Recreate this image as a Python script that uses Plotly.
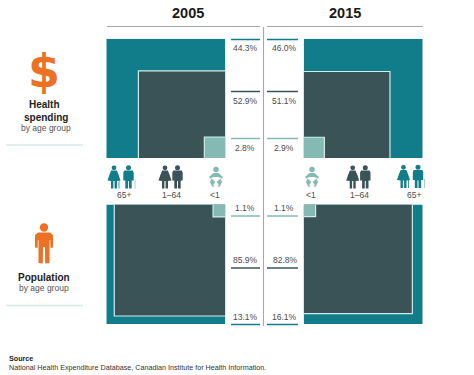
import plotly.graph_objects as go

W, H = 474, 375
years = ["2005", "2015"]
age_groups = ["65+", "1–64", "<1"]
spending_2005 = [44.3, 52.9, 2.8]
spending_2015 = [46.0, 51.1, 2.9]
population_2005 = [13.1, 85.9, 1.1]
population_2015 = [16.1, 82.8, 1.1]
# square side, as a share of the panel side
spending_2005_sides = [1.0, 0.730, 0.176]
spending_2015_sides = [1.0, 0.725, 0.174]
population_2005_sides = [1.0, 0.933, 0.103]
population_2015_sides = [1.0, 0.913, 0.100]
colors = ["#127d8a", "#3a5357", "#85bab4"]
EDGE = "#d3ebe9"
ORANGE = "#ee7023"
FONT = "Liberation Sans, Arial, sans-serif"

px = lambda x: x / W
py = lambda y: 1 - y / H

panels = [
    (spending_2005_sides, 106.3, 225.3, 38.7, 158, True, False),
    (spending_2015_sides, 303.7, 422.7, 38.7, 158, False, False),
    (population_2005_sides, 106.3, 225.3, 204.6, 324, True, True),
    (population_2015_sides, 303.7, 422.7, 204.6, 324, False, True),
]

fig = go.Figure()
layout_axes = {}
for i, (sides, x0, x1, y0, y1, rev_x, rev_y) in enumerate(panels, 1):
    for j, s in enumerate(sides):
        fig.add_trace(go.Scatter(
            x=[0, s, s, 0, 0], y=[0, 0, s, s, 0], mode="lines", fill="toself",
            fillcolor=colors[j], hoverinfo="skip", showlegend=False,
            line=dict(color=colors[j], width=0),
            xaxis=f"x{i}", yaxis=f"y{i}"))
        if j:
            fig.add_trace(go.Scatter(
                x=[s, s, 0], y=[0, s, s], mode="lines", hoverinfo="skip", showlegend=False,
                line=dict(color=EDGE, width=1.2), xaxis=f"x{i}", yaxis=f"y{i}"))
    suffix = "" if i == 1 else str(i)
    layout_axes[f"xaxis{suffix}"] = dict(
        domain=[px(x0), px(x1)], range=[1, 0] if rev_x else [0, 1], visible=False,
        anchor=f"y{i}", fixedrange=True)
    layout_axes[f"yaxis{suffix}"] = dict(
        domain=[py(y1), py(y0)], range=[1, 0] if rev_y else [0, 1], visible=False,
        anchor=f"x{i}", fixedrange=True)

shapes = []
ann = []


def line(x0, y0, x1, y1, color, width=1.0):
    shapes.append(dict(type="line", xref="paper", yref="paper", x0=px(x0), x1=px(x1),
                       y0=py(y0), y1=py(y1), line=dict(color=color, width=width)))


def text(x, y, s, size=8.5, color="#4d4d4d", bold=False, anchor="center", family=FONT):
    ann.append(dict(xref="paper", yref="paper", x=px(x), y=py(y), text=f"<b>{s}</b>" if bold else s,
                    showarrow=False, xanchor=anchor, yanchor="middle", align="center",
                    font=dict(family=family, size=size, color=color)))


def poly(points, color):
    d = "M" + " L".join(f"{px(a):.5f},{py(b):.5f}" for a, b in points) + " Z"
    shapes.append(dict(type="path", xref="paper", yref="paper", path=d,
                       fillcolor=color, line=dict(width=0)))


def dot(cx, cy, r, color):
    shapes.append(dict(type="circle", xref="paper", yref="paper", x0=px(cx - r), x1=px(cx + r),
                       y0=py(cy - r), y1=py(cy + r), fillcolor=color, line=dict(width=0)))


def woman(cx, top, color, cane=False):
    dot(cx, top + 2.3, 2.4, color)
    poly([(cx - 2.8, top + 5), (cx + 2.8, top + 5), (cx + 4.5, top + 9), (cx + 6.5, top + 15),
          (cx + 3, top + 15.5), (cx + 3, top + 23), (cx + .6, top + 23), (cx + .6, top + 15.5),
          (cx - .6, top + 15.5), (cx - .6, top + 23), (cx - 3, top + 23), (cx - 3, top + 15.5),
          (cx - 6.5, top + 15), (cx - 4.5, top + 9)], color)
    if cane:
        line(cx + 5, top + 15, cx + 5, top + 23, color, 0.8)


def man(cx, top, color, cane=False):
    dot(cx, top + 2.3, 2.5, color)
    poly([(cx - 4.2, top + 5), (cx + 4.2, top + 5), (cx + 5.2, top + 7), (cx + 5.2, top + 15),
          (cx + 3.2, top + 15), (cx + 3.2, top + 23), (cx + .5, top + 23), (cx + .5, top + 15.5),
          (cx - .5, top + 15.5), (cx - .5, top + 23), (cx - 3.2, top + 23), (cx - 3.2, top + 15),
          (cx - 5.2, top + 15), (cx - 5.2, top + 7)], color)
    if cane:
        line(cx + 6.5, top + 14, cx + 6.5, top + 23, "#8fc4c2", 0.8)


def baby(cx, top, color):
    dot(cx, top + 3, 2.8, color)
    poly([(cx - 2.5, top + 6.5), (cx + 2.5, top + 6.5), (cx + 7, top + 10.5), (cx + 5.8, top + 12),
          (cx + 2.5, top + 10.5), (cx - 2.5, top + 10.5), (cx - 5.8, top + 12), (cx - 7, top + 10.5)], color)
    poly([(cx - 4.5, top + 12), (cx - .7, top + 15.5), (cx - 3, top + 18.5), (cx - .7, top + 20),
          (cx - 4, top + 20), (cx - 6, top + 15.5)], color)
    poly([(cx + 4.5, top + 12), (cx + .7, top + 15.5), (cx + 3, top + 18.5), (cx + .7, top + 20),
          (cx + 4, top + 20), (cx + 6, top + 15.5)], color)


# titles and rules
text(187.5, 13, years[0], 14.5, "#1a1a1a", True)
text(345, 13, years[1], 14.5, "#1a1a1a", True)
line(107, 26.5, 260, 26.5, "#a8a8a8", 1.1)
line(267, 26.5, 423, 26.5, "#a8a8a8", 1.1)
line(263.5, 27, 263.5, 326, "#a8a8a8", 1.1)

# sidebar
line(6, 145, 83, 145, "#d6e9e7", 1.5)
line(6, 305.5, 83, 305.5, "#d6e9e7", 1.5)
text(43.5, 71, "$", 46, ORANGE, True, family="DejaVu Sans")
text(44, 104.5, "Health", 10, "#222222", True)
text(45.5, 117, "spending", 10, "#222222", True)
text(45.5, 128, "by age group", 8.5, "#555555")
text(44, 277, "Population", 10, "#222222", True)
text(44, 288, "by age group", 8.5, "#555555")

# orange person
dot(44, 227.5, 4.2, ORANGE)
poly([(38, 232.5), (50, 232.5), (53, 235), (53, 247.5), (50.5, 248), (50.2, 240), (49.5, 240),
      (49.5, 263), (45.2, 263.5), (45, 247), (43, 247), (42.8, 263.5), (38.5, 263), (38.5, 240),
      (37.8, 240), (37.5, 248), (35, 247.5), (35, 235)], ORANGE)

# percent stubs and labels
stub_y_top = [39.5, 91.5, 138.5]
stub_y_bot = [324.5, 268, 216]
label_y_top = [47.5, 101, 148]
label_y_bot = [317, 260, 208]
for k, c in enumerate(colors):
    line(231, stub_y_top[k], 260, stub_y_top[k], c, 1.5)
    line(267, stub_y_top[k], 298, stub_y_top[k], c, 1.5)
    line(231, stub_y_bot[k], 260, stub_y_bot[k], c, 1.5)
    line(267, stub_y_bot[k], 298, stub_y_bot[k], c, 1.5)
    text(245, label_y_top[k], f"{spending_2005[k]:.1f}%")
    text(284, label_y_top[k], f"{spending_2015[k]:.1f}%")
    text(245.5, label_y_bot[k], f"{population_2005[k]:.1f}%")
    text(285 if k == 1 else 284, label_y_bot[k], f"{population_2015[k]:.1f}%")

# age icons
woman(114, 165.5, colors[0], True)
man(128.5, 165.5, colors[0], True)
woman(165, 165.5, colors[1])
man(177.5, 165.5, colors[1])
baby(216, 166.5, colors[2])
baby(312, 166.5, colors[2])
woman(352.7, 165.5, colors[1])
man(365.3, 165.5, colors[1])
woman(403.5, 165, colors[0], True)
man(418, 165, colors[0], True)

for x, k in [(123.7, 0), (171.5, 1), (215, 2), (311, 2), (359.3, 1), (413.7, 0)]:
    text(x, 195.3, age_groups[k])

ann.append(dict(xref="paper", yref="paper", x=px(7), y=py(358.3), text="<b>Source</b>", showarrow=False,
                xanchor="left", yanchor="middle", font=dict(family=FONT, size=7.2, color="#222222")))
ann.append(dict(xref="paper", yref="paper", x=px(7), y=py(367.3),
                text="National Health Expenditure Database, Canadian Institute for Health Information.",
                showarrow=False, xanchor="left", yanchor="middle",
                font=dict(family=FONT, size=7.2, color="#333333")))

fig.update_layout(width=W, height=H, margin=dict(l=0, r=0, t=0, b=0),
                  paper_bgcolor="white", plot_bgcolor="white", showlegend=False,
                  shapes=shapes, annotations=ann, **layout_axes)
fig.write_html("out.html", config={"displayModeBar": False},
               post_script="document.body.style.margin='0';")
